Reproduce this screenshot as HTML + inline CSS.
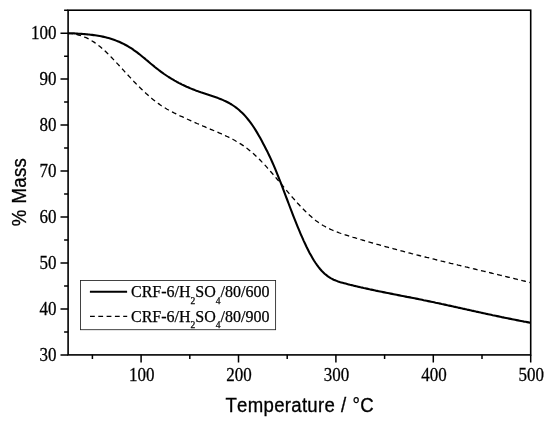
<!DOCTYPE html>
<html><head><meta charset="utf-8"><title>TGA</title>
<style>
html,body{margin:0;padding:0;background:#fff;}
svg{display:block;}
text{font-kerning:none;}
.t{font-family:"Liberation Serif",serif;font-size:17px;fill:#000;stroke:#000;stroke-width:0.25px;}
.l{font-family:"Liberation Serif",serif;font-size:16px;fill:#000;stroke:#000;stroke-width:0.25px;}
.a{font-family:"Liberation Sans",sans-serif;font-size:18.6px;letter-spacing:0.3px;word-spacing:0.5px;fill:#000;stroke:#000;stroke-width:0.3px;}
</style></head><body>
<svg width="550" height="422" viewBox="0 0 550 422">
<rect width="550" height="422" fill="#fff"/>
<rect x="68.1" y="10.2" width="462.6" height="344.7" fill="none" stroke="#000" stroke-width="1.6"/>
<path d="M60.5,354.9H68.1M60.5,308.9H68.1M60.5,262.9H68.1M60.5,217.0H68.1M60.5,171.0H68.1M60.5,125.1H68.1M60.5,79.1H68.1M60.5,33.2H68.1M64.1,331.9H68.1M64.1,285.9H68.1M64.1,240.0H68.1M64.1,194.0H68.1M64.1,148.1H68.1M64.1,102.1H68.1M64.1,56.2H68.1M64.1,10.2H68.1M141.1,354.85V362.5M238.5,354.85V362.5M335.9,354.85V362.5M433.3,354.85V362.5M530.7,354.85V362.5M92.4,354.85V358.9M189.8,354.85V358.9M287.2,354.85V358.9M384.6,354.85V358.9M482.0,354.85V358.9" stroke="#000" stroke-width="1.5" fill="none"/>
<text class="t" transform="translate(56.5,361.0) scale(1,1.09)" text-anchor="end">30</text>
<text class="t" transform="translate(56.5,315.0) scale(1,1.09)" text-anchor="end">40</text>
<text class="t" transform="translate(56.5,269.0) scale(1,1.09)" text-anchor="end">50</text>
<text class="t" transform="translate(56.5,223.1) scale(1,1.09)" text-anchor="end">60</text>
<text class="t" transform="translate(56.5,177.1) scale(1,1.09)" text-anchor="end">70</text>
<text class="t" transform="translate(56.5,131.2) scale(1,1.09)" text-anchor="end">80</text>
<text class="t" transform="translate(56.5,85.2) scale(1,1.09)" text-anchor="end">90</text>
<text class="t" transform="translate(56.5,39.3) scale(1,1.09)" text-anchor="end">100</text>
<text class="t" transform="translate(141.7,380.8) scale(1,1.09)" text-anchor="middle">100</text>
<text class="t" transform="translate(239.1,380.8) scale(1,1.09)" text-anchor="middle">200</text>
<text class="t" transform="translate(336.5,380.8) scale(1,1.09)" text-anchor="middle">300</text>
<text class="t" transform="translate(433.9,380.8) scale(1,1.09)" text-anchor="middle">400</text>
<text class="t" transform="translate(531.3,380.8) scale(1,1.09)" text-anchor="middle">500</text>
<text class="a" transform="translate(299.7,411.6) scale(1.0,1.04)" text-anchor="middle">Temperature / °C</text>
<text class="a" transform="translate(26.2,192.1) rotate(-90) scale(1.0,1.04)" text-anchor="middle">% Mass</text>
<path d="M68.1,33.1 L69.6,33.2 L71.1,33.2 L72.6,33.3 L74.1,33.4 L75.6,33.5 L77.1,33.6 L78.6,33.7 L80.1,33.8 L81.6,33.9 L83.1,34.0 L84.6,34.1 L86.1,34.2 L87.6,34.4 L89.1,34.5 L90.6,34.7 L92.1,34.9 L93.6,35.1 L95.1,35.3 L96.6,35.5 L98.1,35.7 L99.6,36.0 L101.1,36.3 L102.6,36.6 L104.1,36.9 L105.6,37.3 L107.1,37.7 L108.6,38.1 L110.1,38.5 L111.6,39.0 L113.1,39.5 L114.6,40.0 L116.1,40.6 L117.6,41.2 L119.1,41.8 L120.6,42.5 L122.1,43.2 L123.6,43.9 L125.1,44.7 L126.6,45.5 L128.1,46.4 L129.6,47.3 L131.1,48.2 L132.6,49.2 L134.1,50.3 L135.6,51.3 L137.1,52.4 L138.6,53.6 L140.1,54.8 L141.6,56.0 L143.1,57.2 L144.6,58.4 L146.1,59.7 L147.6,60.9 L149.1,62.2 L150.6,63.5 L152.1,64.7 L153.6,65.9 L155.1,67.2 L156.6,68.4 L158.1,69.5 L159.6,70.7 L161.1,71.8 L162.6,72.9 L164.1,74.0 L165.6,75.0 L167.1,76.0 L168.6,77.0 L170.1,77.9 L171.6,78.8 L173.1,79.7 L174.6,80.6 L176.1,81.4 L177.6,82.3 L179.1,83.1 L180.6,83.8 L182.1,84.6 L183.6,85.3 L185.1,86.0 L186.6,86.7 L188.1,87.3 L189.6,88.0 L191.1,88.6 L192.6,89.2 L194.1,89.8 L195.6,90.4 L197.1,90.9 L198.6,91.5 L200.1,92.0 L201.6,92.6 L203.1,93.1 L204.6,93.6 L206.1,94.1 L207.6,94.6 L209.1,95.1 L210.6,95.6 L212.1,96.1 L213.6,96.6 L215.1,97.1 L216.6,97.6 L218.1,98.1 L219.6,98.7 L221.1,99.3 L222.6,99.9 L224.1,100.6 L225.6,101.3 L227.1,102.0 L228.6,102.8 L230.1,103.6 L231.6,104.5 L233.1,105.5 L234.6,106.5 L236.1,107.6 L237.6,108.8 L239.1,110.0 L240.6,111.4 L242.1,112.8 L243.6,114.3 L245.1,115.9 L246.6,117.7 L248.1,119.5 L249.6,121.4 L251.1,123.4 L252.6,125.5 L254.1,127.8 L255.6,130.1 L257.1,132.6 L258.6,135.2 L260.1,137.8 L261.6,140.6 L263.1,143.4 L264.6,146.2 L266.1,149.2 L267.6,152.1 L269.1,155.2 L270.6,158.4 L272.1,161.7 L273.6,165.1 L275.1,168.7 L276.6,172.3 L278.1,176.1 L279.6,179.9 L281.1,183.7 L282.6,187.7 L284.1,191.6 L285.6,195.6 L287.1,199.5 L288.6,203.5 L290.1,207.5 L291.6,211.4 L293.1,215.3 L294.6,219.1 L296.1,222.9 L297.6,226.6 L299.1,230.2 L300.6,233.8 L302.1,237.2 L303.6,240.6 L305.1,243.8 L306.6,247.0 L308.1,250.0 L309.6,252.9 L311.1,255.6 L312.6,258.2 L314.1,260.7 L315.6,263.0 L317.1,265.1 L318.6,267.1 L320.1,269.0 L321.6,270.7 L323.1,272.2 L324.6,273.7 L326.1,274.9 L327.6,276.1 L329.1,277.2 L330.6,278.1 L332.1,278.9 L333.6,279.7 L335.1,280.3 L336.6,280.9 L338.1,281.5 L339.6,282.0 L341.1,282.4 L342.6,282.8 L344.1,283.2 L345.6,283.6 L347.1,284.0 L348.6,284.4 L350.1,284.8 L351.6,285.1 L353.1,285.5 L354.6,285.9 L356.1,286.2 L357.6,286.6 L359.1,286.9 L360.6,287.3 L362.1,287.6 L363.6,288.0 L365.1,288.3 L366.6,288.6 L368.1,288.9 L369.6,289.3 L371.1,289.6 L372.6,289.9 L374.1,290.2 L375.6,290.6 L377.1,290.9 L378.6,291.2 L380.1,291.5 L381.6,291.8 L383.1,292.1 L384.6,292.4 L386.1,292.7 L387.6,293.0 L389.1,293.3 L390.6,293.6 L392.1,293.9 L393.6,294.2 L395.1,294.5 L396.6,294.8 L398.1,295.1 L399.6,295.4 L401.1,295.7 L402.6,296.0 L404.1,296.3 L405.6,296.6 L407.1,296.9 L408.6,297.1 L410.1,297.4 L411.6,297.7 L413.1,298.0 L414.6,298.3 L416.1,298.6 L417.6,298.9 L419.1,299.2 L420.6,299.5 L422.1,299.8 L423.6,300.2 L425.1,300.5 L426.6,300.8 L428.1,301.1 L429.6,301.4 L431.1,301.7 L432.6,302.0 L434.1,302.3 L435.6,302.7 L437.1,303.0 L438.6,303.3 L440.1,303.6 L441.6,304.0 L443.1,304.3 L444.6,304.6 L446.1,304.9 L447.6,305.3 L449.1,305.6 L450.6,305.9 L452.1,306.2 L453.6,306.6 L455.1,306.9 L456.6,307.2 L458.1,307.6 L459.6,307.9 L461.1,308.2 L462.6,308.6 L464.1,308.9 L465.6,309.2 L467.1,309.6 L468.6,309.9 L470.1,310.2 L471.6,310.6 L473.1,310.9 L474.6,311.2 L476.1,311.6 L477.6,311.9 L479.1,312.2 L480.6,312.5 L482.1,312.9 L483.6,313.2 L485.1,313.5 L486.6,313.9 L488.1,314.2 L489.6,314.5 L491.1,314.8 L492.6,315.2 L494.1,315.5 L495.6,315.8 L497.1,316.1 L498.6,316.4 L500.1,316.7 L501.6,317.1 L503.1,317.4 L504.6,317.7 L506.1,318.0 L507.6,318.3 L509.1,318.6 L510.6,318.9 L512.1,319.2 L513.6,319.5 L515.1,319.8 L516.6,320.1 L518.1,320.4 L519.6,320.7 L521.1,321.0 L522.6,321.3 L524.1,321.6 L525.6,321.8 L527.1,322.1 L528.6,322.4 L530.1,322.7 L530.7,322.8" fill="none" stroke="#000" stroke-width="2.1" stroke-linejoin="round"/>
<path d="M68.1,33.5 L69.6,33.6 L71.1,33.7 L72.6,33.8 L74.1,34.0 L75.6,34.3 L77.1,34.6 L78.6,35.0 L80.1,35.4 L81.6,35.9 L83.1,36.4 L84.6,37.1 L86.1,37.7 L87.6,38.4 L89.1,39.2 L90.6,40.1 L92.1,41.0 L93.6,41.9 L95.1,42.9 L96.6,44.0 L98.1,45.1 L99.6,46.3 L101.1,47.6 L102.6,48.9 L104.1,50.2 L105.6,51.6 L107.1,53.0 L108.6,54.5 L110.1,56.0 L111.6,57.5 L113.1,59.1 L114.6,60.7 L116.1,62.3 L117.6,63.9 L119.1,65.5 L120.6,67.2 L122.1,68.8 L123.6,70.4 L125.1,72.1 L126.6,73.7 L128.1,75.3 L129.6,76.9 L131.1,78.5 L132.6,80.1 L134.1,81.7 L135.6,83.2 L137.1,84.8 L138.6,86.3 L140.1,87.8 L141.6,89.2 L143.1,90.7 L144.6,92.1 L146.1,93.5 L147.6,94.8 L149.1,96.2 L150.6,97.5 L152.1,98.7 L153.6,99.9 L155.1,101.1 L156.6,102.3 L158.1,103.4 L159.6,104.4 L161.1,105.5 L162.6,106.4 L164.1,107.4 L165.6,108.3 L167.1,109.2 L168.6,110.0 L170.1,110.8 L171.6,111.6 L173.1,112.4 L174.6,113.2 L176.1,113.9 L177.6,114.6 L179.1,115.4 L180.6,116.1 L182.1,116.7 L183.6,117.4 L185.1,118.1 L186.6,118.8 L188.1,119.5 L189.6,120.2 L191.1,120.8 L192.6,121.5 L194.1,122.2 L195.6,122.8 L197.1,123.5 L198.6,124.1 L200.1,124.8 L201.6,125.4 L203.1,126.1 L204.6,126.7 L206.1,127.4 L207.6,128.0 L209.1,128.7 L210.6,129.3 L212.1,129.9 L213.6,130.5 L215.1,131.2 L216.6,131.8 L218.1,132.4 L219.6,133.1 L221.1,133.7 L222.6,134.4 L224.1,135.1 L225.6,135.8 L227.1,136.5 L228.6,137.2 L230.1,137.9 L231.6,138.7 L233.1,139.5 L234.6,140.3 L236.1,141.2 L237.6,142.0 L239.1,143.0 L240.6,143.9 L242.1,144.9 L243.6,145.9 L245.1,147.0 L246.6,148.1 L248.1,149.2 L249.6,150.4 L251.1,151.7 L252.6,152.9 L254.1,154.3 L255.6,155.7 L257.1,157.1 L258.6,158.5 L260.1,160.0 L261.6,161.6 L263.1,163.1 L264.6,164.7 L266.1,166.4 L267.6,168.1 L269.1,169.8 L270.6,171.5 L272.1,173.2 L273.6,175.0 L275.1,176.8 L276.6,178.5 L278.1,180.3 L279.6,182.1 L281.1,183.9 L282.6,185.7 L284.1,187.5 L285.6,189.3 L287.1,191.1 L288.6,192.9 L290.1,194.6 L291.6,196.4 L293.1,198.1 L294.6,199.8 L296.1,201.5 L297.6,203.2 L299.1,204.8 L300.6,206.4 L302.1,208.0 L303.6,209.5 L305.1,211.0 L306.6,212.5 L308.1,213.9 L309.6,215.3 L311.1,216.6 L312.6,217.9 L314.1,219.2 L315.6,220.4 L317.1,221.5 L318.6,222.6 L320.1,223.6 L321.6,224.5 L323.1,225.5 L324.6,226.3 L326.1,227.1 L327.6,227.9 L329.1,228.7 L330.6,229.4 L332.1,230.0 L333.6,230.7 L335.1,231.3 L336.6,231.9 L338.1,232.4 L339.6,233.0 L341.1,233.5 L342.6,234.0 L344.1,234.5 L345.6,235.0 L347.1,235.4 L348.6,235.9 L350.1,236.4 L351.6,236.8 L353.1,237.3 L354.6,237.7 L356.1,238.2 L357.6,238.6 L359.1,239.1 L360.6,239.5 L362.1,240.0 L363.6,240.4 L365.1,240.9 L366.6,241.3 L368.1,241.7 L369.6,242.2 L371.1,242.6 L372.6,243.0 L374.1,243.5 L375.6,243.9 L377.1,244.3 L378.6,244.7 L380.1,245.1 L381.6,245.6 L383.1,246.0 L384.6,246.4 L386.1,246.8 L387.6,247.2 L389.1,247.6 L390.6,248.0 L392.1,248.4 L393.6,248.8 L395.1,249.2 L396.6,249.6 L398.1,250.0 L399.6,250.4 L401.1,250.8 L402.6,251.2 L404.1,251.6 L405.6,252.0 L407.1,252.4 L408.6,252.8 L410.1,253.2 L411.6,253.6 L413.1,253.9 L414.6,254.3 L416.1,254.7 L417.6,255.1 L419.1,255.5 L420.6,255.9 L422.1,256.2 L423.6,256.6 L425.1,257.0 L426.6,257.4 L428.1,257.7 L429.6,258.1 L431.1,258.5 L432.6,258.9 L434.1,259.2 L435.6,259.6 L437.1,260.0 L438.6,260.3 L440.1,260.7 L441.6,261.1 L443.1,261.4 L444.6,261.8 L446.1,262.2 L447.6,262.5 L449.1,262.9 L450.6,263.3 L452.1,263.6 L453.6,264.0 L455.1,264.4 L456.6,264.7 L458.1,265.1 L459.6,265.4 L461.1,265.8 L462.6,266.2 L464.1,266.5 L465.6,266.9 L467.1,267.2 L468.6,267.6 L470.1,268.0 L471.6,268.3 L473.1,268.7 L474.6,269.0 L476.1,269.4 L477.6,269.8 L479.1,270.1 L480.6,270.5 L482.1,270.8 L483.6,271.2 L485.1,271.5 L486.6,271.9 L488.1,272.3 L489.6,272.6 L491.1,273.0 L492.6,273.4 L494.1,273.7 L495.6,274.1 L497.1,274.4 L498.6,274.8 L500.1,275.2 L501.6,275.5 L503.1,275.9 L504.6,276.2 L506.1,276.6 L507.6,277.0 L509.1,277.3 L510.6,277.7 L512.1,278.1 L513.6,278.4 L515.1,278.8 L516.6,279.2 L518.1,279.6 L519.6,279.9 L521.1,280.3 L522.6,280.7 L524.1,281.0 L525.6,281.4 L527.1,281.8 L528.6,282.2 L530.1,282.5 L530.7,282.7" fill="none" stroke="#000" stroke-width="1.3" stroke-dasharray="4.8 3.5" stroke-linejoin="round"/>
<rect x="80.5" y="280.5" width="195.1" height="49.2" fill="#fff" stroke="#222" stroke-width="0.85"/>
<path d="M89.9,291.8H127.1" stroke="#000" stroke-width="2.1"/>
<path d="M90,316.4H127.2" stroke="#000" stroke-width="1.3" stroke-dasharray="4.8 3.5"/>
<text class="l" x="131" y="297.1">CRF-6/H<tspan dy="6.4" font-size="9.5">2</tspan><tspan dy="-6.4">SO</tspan><tspan dy="6.4" font-size="9.5">4</tspan><tspan dy="-6.4">/80/600</tspan></text>
<text class="l" x="131" y="321.7">CRF-6/H<tspan dy="6.4" font-size="9.5">2</tspan><tspan dy="-6.4">SO</tspan><tspan dy="6.4" font-size="9.5">4</tspan><tspan dy="-6.4">/80/900</tspan></text>
</svg></body></html>
